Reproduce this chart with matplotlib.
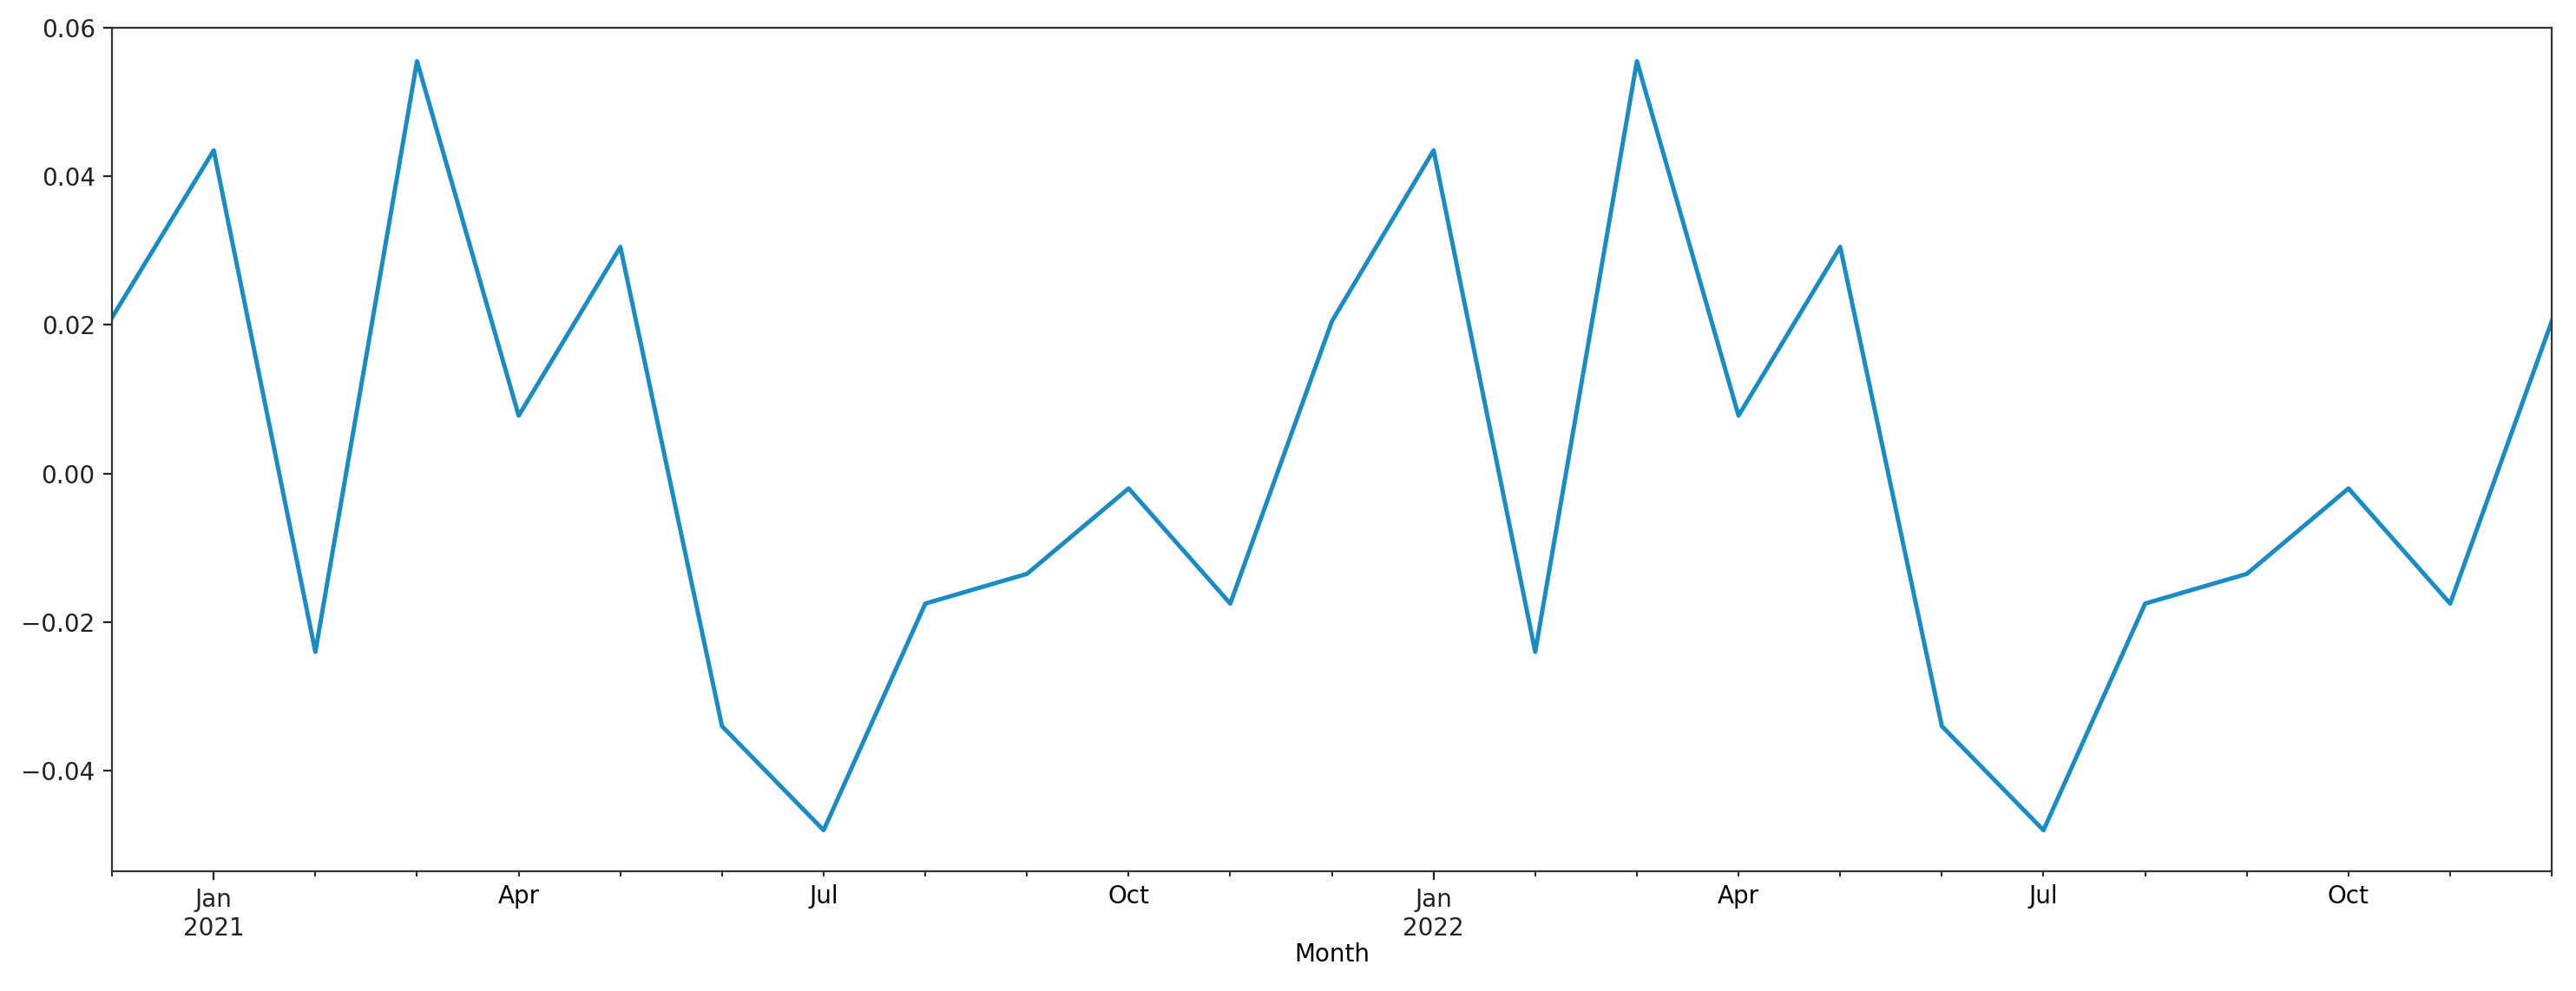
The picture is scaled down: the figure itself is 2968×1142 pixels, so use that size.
import numpy as np
import pandas as pd
import matplotlib
matplotlib.use('Agg')
import matplotlib.pyplot as plt

# monthly values
months = pd.period_range('2020-12', '2022-12', freq='M')
values = [0.0210, 0.0435, -0.0240, 0.0555, 0.0078, 0.0305, -0.0340, -0.0480,
          -0.0175, -0.0135, -0.0020, -0.0175, 0.0205, 0.0435, -0.0240, 0.0555,
          0.0078, 0.0305, -0.0340, -0.0480, -0.0175, -0.0135, -0.0020, -0.0175,
          0.0205]

s = pd.Series(values, index=months, name='value')
s.index.name = 'Month'

fig, ax = plt.subplots(figsize=(14.84, 5.71), dpi=200)
s.plot(ax=ax, color='#1a8cc4', linewidth=1.8)
ax.set_ylim(-0.0535, 0.06)
ax.set_yticks([-0.04, -0.02, 0.0, 0.02, 0.04, 0.06])
ax.set_xlabel('Month', labelpad=1)
for sp in ax.spines.values():
    sp.set_color('#333333')
ax.tick_params(colors='#222222')

fig.subplots_adjust(left=0.0435, right=0.9906, top=0.972, bottom=0.121)
fig.savefig('out.png', dpi=200)
